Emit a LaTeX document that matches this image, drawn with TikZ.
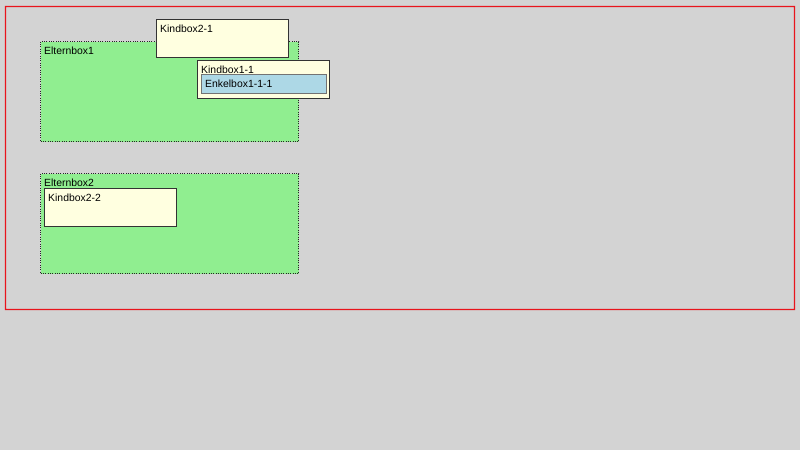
\documentclass[tikz,border=0pt]{standalone}
\usepackage{fontspec}
\setmainfont{Liberation Sans}
\usetikzlibrary{positioning}
\definecolor{BgGray}{HTML}{D3D3D3}
\definecolor{ElternGreen}{HTML}{90EE90}
\definecolor{KindYellow}{HTML}{FFFFE0}
\definecolor{EnkelBlue}{HTML}{ADD8E6}
\definecolor{FrameRed}{HTML}{E8141C}
\tikzset{
    boxfont/.style={font=\fontsize{7.8pt}{9.4pt}\selectfont},
    box/.style={
        rectangle, anchor=north west, inner sep=0pt, outer sep=0pt, boxfont
    },
    boxlabel/.style={
        anchor=north west, inner xsep=2.6pt, inner ysep=3.7pt, boxfont
    },
    elternbox/.style={
        box, draw=black!85, densely dotted, line width=0.75pt, fill=ElternGreen,
        minimum width=193.5pt, minimum height=75pt,
        label={[boxlabel]north west:#1}
    },
    kindbox/.style={
        box, draw=black!80, line width=0.75pt, fill=KindYellow,
        minimum width=99pt, minimum height=28.5pt,
        label={[boxlabel]north west:#1}
    },
    enkelbox/.style={
        box, draw=black!55, line width=0.75pt, fill=EnkelBlue,
        minimum width=93.75pt, minimum height=14.25pt,
        label={[boxlabel]north west:#1}
    }
}
\begin{document}
\begin{tikzpicture}[x=0.75pt, y=-0.75pt]
    % Hintergrund
    \fill[BgGray] (0,0) rectangle (800,450);
    \useasboundingbox (0,0) rectangle (800,450);

    % Rahmen
    \fill[FrameRed, even odd rule] (4.8,5.8) rectangle (795.2,310.2)
        (6.2,7.2) rectangle (793.8,308.8);

    % Elternboxen mit Kindern
    \node[elternbox=Elternbox1] (eltern1) at (40.5,41.5) {};
    \node[kindbox=Kindbox2-1] (kind21) at (156.5,19.5) {};
    \node[kindbox=Kindbox1-1] (kind11) at (197.5,60.5) {};
    \node[enkelbox=Enkelbox1-1-1] (enkel111) at (201.5,74.5) {};

    \node[elternbox=Elternbox2] (eltern2) at (40.5,173.5) {};
    \node[kindbox=Kindbox2-2] (kind22) at (44.5,188.5) {};
\end{tikzpicture}
\end{document}
